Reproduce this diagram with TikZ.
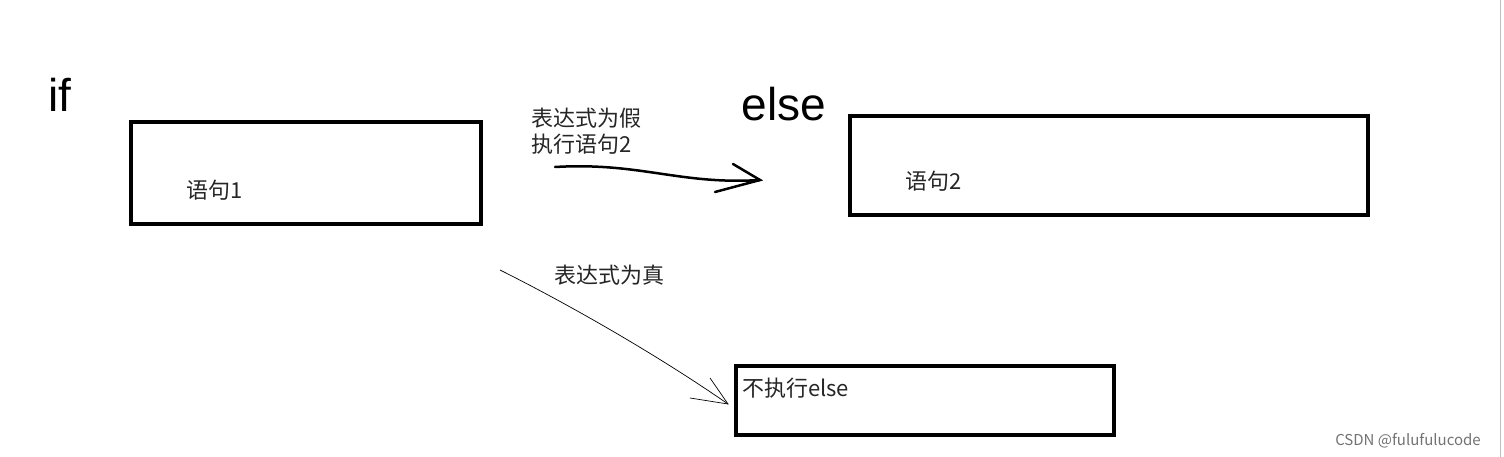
\documentclass[tikz,border=0pt]{standalone}
\usepackage{fontspec}
\setmainfont{Liberation Sans}
\newfontfamily\cjk{Noto Sans CJK SC}
\begin{document}
\begin{tikzpicture}[x=1pt,y=-1pt,
  boxx/.style={draw=black,line width=4pt},
  lbl/.style={font=\cjk\fontsize{22}{26}\selectfont,inner sep=0pt,text=black!85},
  big/.style={font=\fontsize{46}{50}\selectfont,inner sep=0pt}]
\useasboundingbox[fill=white] (0,0) rectangle (1504,457);
\draw[black!25,line width=1pt] (1500,0) -- (1500,457);
\node[big] (if) at (60,95) {if};
\node[big] (else) at (784,104) {else};
\draw[boxx] (131,122) rectangle (481,224);
\draw[boxx] (850,116) rectangle (1368,215);
\draw[boxx] (736,366) rectangle (1114,435);
\node[lbl] (s1) at (215,190) {语句1};
\node[lbl] (s2) at (934,181) {语句2};
\node[lbl,anchor=west] (s3) at (742,388) {不执行else};
\node[lbl,anchor=west,align=left] (f) at (531,131) {表达式为假\\执行语句2};
\node[lbl,anchor=west] (t) at (554,275) {表达式为真};
\coordinate (a1) at (555,167);
\coordinate (a2) at (760,180);
\draw[line width=2.5pt,line cap=round] (a1) .. controls (640,162) and (680,185) .. (a2);
\draw[line width=2.5pt,line cap=round] (733,164) -- (a2) -- (715,192);
\coordinate (b1) at (500,270);
\coordinate (b2) at (728,404);
\draw[line width=0.7pt] (b1) .. controls (560,300) and (650,350) .. (b2);
\draw[line width=0.7pt] (710,378) -- (b2) -- (690,398);
\node[font=\cjk\fontsize{15}{18}\selectfont,text=black!55] (wm) at (1408,441) {CSDN @fulufulucode};
\end{tikzpicture}
\end{document}
